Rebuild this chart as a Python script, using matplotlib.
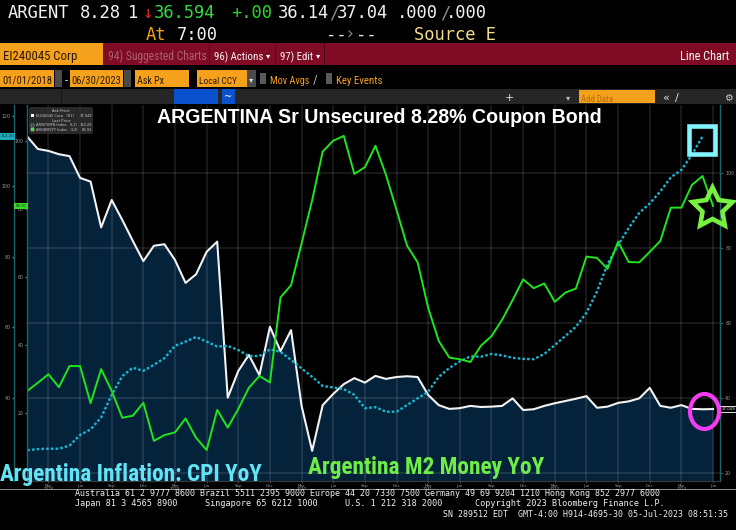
import os
import numpy as np
import matplotlib
matplotlib.use("Agg")
import matplotlib.pyplot as plt
from matplotlib import font_manager as fm
from matplotlib.font_manager import FontProperties
from matplotlib.patches import Rectangle, Ellipse, Polygon, FancyBboxPatch
from matplotlib.transforms import blended_transform_factory as blend

# ---------------- data (monthly, Jan-2018 .. Jun-2023) ----------------
start_year = 2018
quarter_labels = ["Mar", "Jun", "Sep", "Dec"]

bond_ask_px = [109.7, 106.4, 105.9, 105.0, 104.5, 98.7, 97.7, 85.5, 92.8, 87.5,
               81.9, 76.5, 80.6, 81.0, 76.8, 70.7, 73.0, 79.0, 81.7, 40.1,
               47.2, 51.5, 46.1, 59.0, 52.5, 58.1, 37.9, 25.9, 38.1, 41.1,
               43.7, 45.3, 44.1, 45.9, 45.1, 45.6, 45.8, 45.6, 40.8, 38.1,
               37.1, 37.3, 37.9, 37.6, 37.7, 37.9, 39.9, 36.8, 37.0, 37.9,
               38.6, 39.2, 39.8, 40.5, 37.4, 37.7, 38.7, 39.1, 39.9, 42.7,
               37.9, 37.4, 38.1, 37.1, 37.0, 37.049]

cpi_yoy = [25.2, 25.5, 25.6, 25.6, 26.5, 29.5, 31.1, 34.5, 40.9, 46.2,
           48.6, 47.7, 49.4, 51.3, 54.8, 56.0, 57.3, 56.0, 54.6, 54.8,
           53.6, 51.9, 51.9, 53.8, 53.1, 50.8, 48.4, 46.0, 43.4, 43.0,
           42.5, 40.9, 37.1, 37.4, 36.1, 36.1, 38.0, 39.9, 41.8, 46.0,
           48.5, 50.4, 51.8, 51.7, 52.5, 52.1, 51.4, 51.1, 51.0, 52.5,
           55.0, 57.6, 60.2, 64.2, 70.2, 78.0, 83.4, 88.2, 92.5, 95.2,
           98.6, 102.6, 104.7, 109.0, 114.2]

m2_yoy = [26.5, 28.9, 31.4, 27.6, 33.8, 33.8, 22.9, 32.9, 26.5, 18.6,
          19.2, 23.0, 11.8, 13.5, 14.3, 18.4, 12.7, 9.1, 20.9, 15.7,
          21.2, 27.4, 30.9, 29.0, 54.0, 57.6, 69.9, 82.6, 96.9, 100.1,
          101.5, 90.3, 92.3, 98.6, 90.0, 79.7, 69.2, 64.3, 50.9, 41.2,
          36.3, 35.8, 35.0, 39.8, 42.6, 47.4, 53.2, 59.3, 56.7, 58.1,
          52.7, 55.4, 56.6, 66.0, 65.6, 62.4, 70.4, 64.4, 64.3, 67.4,
          70.6, 80.4, 80.4, 87.1, 89.7, 80.91]

bond_ticks = [20, 40, 60, 80, 100]
cpi_ticks = [40, 60, 80, 100, 120]
m2_ticks = [20, 40, 60, 80, 100]

assert len(bond_ask_px) == 66 and len(m2_yoy) == 66 and len(cpi_yoy) == 65

# ---------------- figure ----------------
W, H = 736, 530
fig = plt.figure(figsize=(W / 100, H / 100), dpi=100, facecolor="black")
renderer = fig.canvas.get_renderer()


def font_file(prefs, bold):
    files = [f.fname for f in fm.fontManager.ttflist]
    for p in prefs:
        for fn in files:
            b = os.path.basename(fn).lower()
            if p not in b:
                continue
            if any(k in b for k in ("italic", "oblique", "light", "thin", "medium",
                                    "black", "semi", "extra")):
                continue
            if ("bold" in b) == bold:
                return fn
    return None


NARROW_PREFS = ["liberationsansnarrow", "arialn", "robotocondensed", "roboto-condensed",
                "roboto_condensed", "notosans-condensed", "opensans-condensed",
                "opensans_condensed", "dejavusanscondensed"]


def narrow(bold):
    fn = font_file(NARROW_PREFS, bold)
    if fn:
        return FontProperties(fname=fn)
    return FontProperties(family="Liberation Sans", weight="bold" if bold else "normal")


NB = narrow(True)
NR = narrow(False)
ARIALB = FontProperties(family="Liberation Sans", weight="bold")
MONO = FontProperties(family="DejaVu Sans Mono")
DJ = FontProperties(family="DejaVu Sans")


def put(axh, x, y, s, width=None, size=8.0, fp=None, ha="left", va="baseline", **kw):
    fpp = (fp if fp is not None else DJ).copy()
    fpp.set_size(size)
    t = axh.text(x, y, s, ha=ha, va=va, fontproperties=fpp, **kw)
    if width:
        bb = t.get_window_extent(renderer=renderer)
        if bb.width > 0:
            t.set_fontsize(size * width / bb.width)
    return t


# ---------------- background / terminal chrome ----------------
bg = fig.add_axes([0, 0, 1, 1], zorder=0)
bg.set_xlim(0, W)
bg.set_ylim(H, 0)
bg.axis("off")

ORANGE = "#f6a11c"
REDBAR = "#800b24"
GRAYBAR = "#262626"

# row 1 - quote line
row1 = [("ARGENT", 8, "#f2f2f2"), ("8.28", 80, "#f2f2f2"), ("1", 128, "#f2f2f2"),
        ("\u2193", 143, "#e02828"), ("36.594", 154, "#34d843"), ("+.00", 231, "#2ad42a"),
        ("36.14", 278, "#f2f2f2"), ("/", 329, "#8a8a8a"), ("37.04", 337, "#f2f2f2"),
        (".000", 397, "#f2f2f2"), ("/", 440, "#8a8a8a"), (".000", 446, "#f2f2f2")]
for s, xx, c in row1:
    put(bg, xx, 18.5, s, size=12.3, fp=MONO, color=c)

row2 = [("At", 146, ORANGE), ("7:00", 177, "#f2f2f2"), ("--", 326, "#e0e0e0"),
        ("\u203a", 345, "#888888"), ("--", 356, "#e0e0e0"), ("Source E", 414, "#f4dc8c")]
for s, xx, c in row2:
    put(bg, xx, 39.5, s, size=12.3, fp=MONO, color=c)

# row 3 - security / menu bar
bg.add_patch(Rectangle((0, 43), 103, 22, fc=ORANGE, ec="none"))
bg.add_patch(Rectangle((103, 43), W - 103, 22, fc=REDBAR, ec="none"))
for xs in (209, 275, 324):
    bg.add_patch(Rectangle((xs, 43), 1.2, 22, fc="#4d0615", ec="none"))
put(bg, 3, 60, "EI240045 Corp", width=74, size=10, fp=NR, color="#2a1800")
put(bg, 108, 60, "94) Suggested Charts", width=99, size=10, fp=NR, color="#a9606f")
put(bg, 214, 60, "96) Actions", width=49, size=10, fp=NR, color="#f4f4f4")
put(bg, 268, 58.5, "\u25be", size=6, fp=DJ, color="#f4f4f4", ha="center")
put(bg, 280, 60, "97) Edit", width=33, size=10, fp=NR, color="#f4f4f4")
put(bg, 318, 58.5, "\u25be", size=6, fp=DJ, color="#f4f4f4", ha="center")
put(bg, 729, 60, "Line Chart", width=49, size=10, fp=NR, color="#f4f4f4", ha="right")

# row 4 - date / options
for (l, r) in ((0, 54), (69.5, 123), (135, 189), (197, 247)):
    bg.add_patch(Rectangle((l, 70), r - l, 17, fc=ORANGE, ec="none"))
for (l, r) in ((55, 62), (124, 131), (247, 256)):
    bg.add_patch(Rectangle((l, 70), r - l, 17, fc="#4a4a4a", ec="none"))
for l in (260, 326):
    bg.add_patch(Rectangle((l, 73), 6, 11, fc="#5a5a5a", ec="none"))
put(bg, 2, 84, "01/01/2018", width=50, size=9, fp=NR, color="#2a1800")
put(bg, 65, 84, "-", size=9, fp=NR, color="#dddddd")
put(bg, 71, 84, "06/30/2023", width=50, size=9, fp=NR, color="#2a1800")
put(bg, 137, 84, "Ask Px", width=27, size=9, fp=NR, color="#2a1800")
put(bg, 199, 84, "Local CCY", width=38, size=9, fp=NR, color="#2a1800")
put(bg, 251.5, 82, "\u25be", size=6, fp=DJ, color="#dddddd", ha="center")
put(bg, 270, 84, "Mov Avgs", width=40, size=9, fp=NR, color=ORANGE)
put(bg, 313, 84, "/", size=9, fp=NR, color="#bbbbbb")
put(bg, 336, 84, "Key Events", width=47, size=9, fp=NR, color=ORANGE)

# row 5 - toolbar
bg.add_patch(Rectangle((0, 89), W, 15, fc=GRAYBAR, ec="none"))
bg.add_patch(Rectangle((61, 89), 1, 15, fc="#151515", ec="none"))
bg.add_patch(Rectangle((174, 89), 44, 15, fc="#0b50cd", ec="none"))
bg.add_patch(Rectangle((222, 89), 13, 15, fc="#0b50cd", ec="none"))
put(bg, 228.5, 100, "~", size=7, color="white", ha="center")
put(bg, 509, 101, "+", size=8, color="#dddddd", ha="center")
put(bg, 568, 100, "\u25be", size=6, color="#bbbbbb", ha="center")
bg.add_patch(Rectangle((579, 90), 76, 13, fc=ORANGE, ec="none"))
put(bg, 581, 101.5, "Add Data", width=32, size=8, fp=NR, color="#b06a10")
put(bg, 662, 101, "\u00ab", size=8, color="#dddddd")
put(bg, 675, 101, "/", size=8, color="#dddddd")
put(bg, 728, 101, "\u2699", size=7, color="#cccccc", ha="center")

# footer
bg.add_patch(Rectangle((0, 488.5), W, 1.2, fc="#8a8a8a", ec="none"))
put(bg, 75, 496, "Australia 61 2 9777 8600 Brazil 5511 2395 9000 Europe 44 20 7330 7500 "
    "Germany 49 69 9204 1210 Hong Kong 852 2977 6000", width=585, size=6, fp=MONO, color="#f0f0f0")
for s, xx in (("Japan 81 3 4565 8900", 75), ("Singapore 65 6212 1000", 205),
              ("U.S. 1 212 318 2000", 345), ("Copyright 2023 Bloomberg Finance L.P.", 475)):
    put(bg, xx, 506.5, s, size=6.1, fp=MONO, color="#f0f0f0")
put(bg, 728, 517, "SN 289512 EDT  GMT-4:00 H914-4695-30 05-Jul-2023 08:51:35",
    width=282, size=6, fp=MONO, color="#f0f0f0", ha="right")

# ---------------- chart ----------------
L, T, R, B = 27, 105, 720, 481
PXM = 10.55  # pixels per month
NAVY = "#05223b"
TEAL = "#1b6467"
GREEN = "#1fe51c"
CYAN = "#1ab6cf"
TICKC = "#9c9c9c"

ax = fig.add_axes([L / W, 1 - B / H, (R - L) / W, (B - T) / H], zorder=2)
ax.set_facecolor("black")
x = np.arange(len(bond_ask_px))
ax.set_xlim(-0.3 / PXM, (R - L - 0.3) / PXM)
ax.set_ylim(17.87, 118.13)

ax.fill_between(x, bond_ask_px, 0, color=NAVY, lw=0, zorder=1)
ax.plot(x, bond_ask_px, color="#f2f2f2", lw=1.5, zorder=3, solid_joinstyle="round")

ax_cpi = ax.twinx()
ax_cpi.set_zorder(3)
ax_cpi.set_ylim(16.45, 123.12)
ax_cpi.plot(np.arange(len(cpi_yoy)), cpi_yoy, color=CYAN, lw=1.7,
            ls=(0, (1.1, 0.9)), dash_capstyle="butt")

ax_m2 = ax.twinx()
ax_m2.set_zorder(4)
ax_m2.set_ylim(0, 110.59)
ax_m2.plot(x, m2_yoy, color=GREEN, lw=1.4, solid_joinstyle="round")

# axes styling
ax.yaxis.tick_right()
ax.set_yticks(bond_ticks)
ax.set_yticklabels([str(v) for v in bond_ticks])
for s in ("left", "top"):
    ax.spines[s].set_visible(False)
ax.spines["right"].set_color(TEAL)
ax.spines["right"].set_linewidth(1.0)
ax.spines["bottom"].set_color("#3a3a3a")
ax.tick_params(axis="y", colors=TEAL, labelcolor=TICKC, labelsize=3.4, length=2.5,
               width=0.8, pad=1.2)

tick_idx = [i for i in x if (i % 12) in (2, 5, 8, 11)]
tick_lab = []
for i in tick_idx:
    lab = quarter_labels[((i % 12) - 2) // 3]
    if i % 12 == 2:
        lab += "\n" + str(start_year + i // 12)
    tick_lab.append(lab)
ax.set_xticks(tick_idx)
ax.set_xticklabels(tick_lab, linespacing=0.85)
ax.tick_params(axis="x", colors="#555555", labelcolor=TICKC, labelsize=2.9, length=1.5,
               width=0.6, pad=0.6)
ax.grid(True, color="white", alpha=0.13, lw=1.1)
ax.set_axisbelow("line")

for a, ticks, pos in ((ax_cpi, cpi_ticks, -13 / (R - L)), (ax_m2, m2_ticks, 0.0)):
    a.yaxis.tick_left()
    for s in ("right", "top", "bottom"):
        a.spines[s].set_visible(False)
    a.spines["left"].set_visible(True)
    a.spines["left"].set_position(("axes", pos))
    a.spines["left"].set_color(TEAL)
    a.spines["left"].set_linewidth(1.0)
    a.set_yticks(ticks)
    a.set_yticklabels([str(v) for v in ticks])
    a.tick_params(axis="y", colors="#2a9aa6", labelcolor=TICKC, labelsize=3.4,
                  length=1.8, width=0.9, pad=0.8)

# last value tags
ax.text(1 + 1.5 / (R - L), bond_ask_px[-1], f"{bond_ask_px[-1]:.3f}",
        transform=blend(ax.transAxes, ax.transData), fontsize=2.9, color="#dddddd",
        ha="left", va="center",
        bbox=dict(boxstyle="square,pad=0.25", fc="black", ec="white", lw=0.6))
ax_cpi.text(-26.5 / (R - L), cpi_yoy[-1], f"{cpi_yoy[-1]:.2f}",
            transform=blend(ax.transAxes, ax_cpi.transData), fontsize=2.9, color="#05323a",
            ha="left", va="center",
            bbox=dict(boxstyle="square,pad=0.3", fc="#1eaabb", ec="none"))
ax_m2.text(-11.5 / (R - L), m2_yoy[-1], f"{m2_yoy[-1]:.2f}",
           transform=blend(ax.transAxes, ax_m2.transData), fontsize=2.9, color="#073a05",
           ha="left", va="center",
           bbox=dict(boxstyle="square,pad=0.3", fc="#3cd82c", ec="none"))

# ---------------- overlay: legend, title, annotations ----------------
ov = fig.add_axes([0, 0, 1, 1], zorder=10)
ov.set_xlim(0, W)
ov.set_ylim(H, 0)
ov.axis("off")

ov.add_patch(FancyBboxPatch((29, 107), 64, 27, boxstyle="round,pad=0,rounding_size=2",
                            fc="#2d2d2d", ec="none", alpha=0.92))
put(ov, 61, 112, "Ask Price", size=2.8, color="#c8c8c8", ha="center")
put(ov, 61, 121.5, "Last Price", size=2.8, color="#c8c8c8", ha="center")
leg_rows = [("EI240045 Corp   (R1)", f"{bond_ask_px[-1]:.3f}", "white", 117),
            ("ARNCYIMN Index   (L1)", f"{cpi_yoy[-1]:.2f}", "#0d3b44", 126.5),
            ("ARGBM2YY Index   (L2)", f"{m2_yoy[-1]:.2f}", "#28e01c", 131)]
for name, val, mc, yy in leg_rows:
    ov.add_patch(Rectangle((31, yy - 3), 3, 3, fc=mc, ec="#cfcfcf" if mc != "white" else "none",
                           lw=0.3))
    put(ov, 35.5, yy, name, size=2.6, color="#c8c8c8")
    put(ov, 92, yy, val, size=2.6, color="#c8c8c8", ha="right")

put(ov, 157, 123, "ARGENTINA Sr Unsecured 8.28% Coupon Bond", width=446, size=13,
    fp=ARIALB, color="white")
put(ov, 0, 481, "Argentina Inflation: CPI YoY", width=262, size=16, fp=NB, color="#62e4f6")
put(ov, 308, 474, "Argentina M2 Money YoY", width=237, size=16, fp=NB, color="#6eec48")

# hand-drawn style highlights
ov.add_patch(Rectangle((688.5, 125.5), 26, 28, fill=False, ec="#80f4ff", lw=3.3,
                       joinstyle="miter", clip_on=False))
cx, cy, Ro, Ri = 712.5, 208.5, 21.0, 10.5
ang = -np.pi / 2 + np.arange(10) * np.pi / 5
rad = np.where(np.arange(10) % 2 == 0, Ro, Ri)
ov.add_patch(Polygon(np.column_stack([cx + rad * np.cos(ang), cy + rad * np.sin(ang)]),
                     closed=True, fill=False, ec="#78f040", lw=3.3, joinstyle="miter",
                     clip_on=False))
ov.add_patch(Ellipse((704.5, 411.5), 29, 35, fill=False, ec="#f23cf2", lw=3.0, clip_on=False))

fig.savefig("out.png", dpi=100, facecolor="black")
